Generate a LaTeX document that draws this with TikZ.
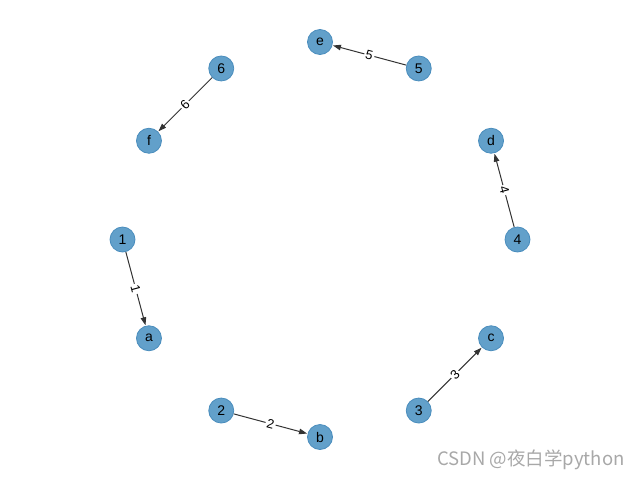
\documentclass[tikz,border=0pt]{standalone}
\usepackage{fontspec}
\setmainfont{Liberation Sans}
\newfontfamily\cjkwm{Noto Sans CJK SC}
\usetikzlibrary{arrows.meta,calc}
\definecolor{nodefill}{HTML}{62A0CA}
\definecolor{nodeedge}{HTML}{4A8DBD}
\definecolor{edgecol}{HTML}{333333}
\definecolor{wmcol}{HTML}{A8A8A8}
\begin{document}
\begin{tikzpicture}[x=1pt,y=-1pt,
  vtx/.style={circle,fill=nodefill,draw=nodeedge,line width=0.8pt,minimum size=25pt,inner sep=0pt,font=\fontsize{14}{14}\selectfont},
  conn/.style={draw=edgecol,line width=1pt,-{Triangle[length=8pt,width=5.5pt]},shorten >=0.5pt},
  elab/.style={fill=white,inner sep=1.5pt,sloped,font=\fontsize{13}{13}\selectfont}]
\useasboundingbox (0,0) rectangle (640,480);
\def\R{197.5}
\coordinate (O) at (320,239.5);
\node[vtx] (n4) at ($(O)+(0:\R)$) {4};
\node[vtx] (nd) at ($(O)+(-30:\R)$) {d};
\node[vtx] (n5) at ($(O)+(-60:\R)$) {5};
\node[vtx] (ne) at ($(O)+(-90:\R)$) {e};
\node[vtx] (n6) at ($(O)+(-120:\R)$) {6};
\node[vtx] (nf) at ($(O)+(-150:\R)$) {f};
\node[vtx] (n1) at ($(O)+(-180:\R)$) {1};
\node[vtx] (na) at ($(O)+(-210:\R)$) {a};
\node[vtx] (n2) at ($(O)+(-240:\R)$) {2};
\node[vtx] (nb) at ($(O)+(-270:\R)$) {b};
\node[vtx] (n3) at ($(O)+(-300:\R)$) {3};
\node[vtx] (nc) at ($(O)+(-330:\R)$) {c};
\draw[conn] (n1) -- node[elab] {1} (na);
\draw[conn] (n2) -- node[elab] {2} (nb);
\draw[conn] (n3) -- node[elab] {3} (nc);
\draw[conn] (n4) -- node[elab] {4} (nd);
\draw[conn] (n5) -- node[elab] {5} (ne);
\draw[conn] (n6) -- node[elab] {6} (nf);
\node[text=wmcol,font=\cjkwm\fontsize{18.5}{18.5}\selectfont,inner sep=0pt] (wm) at (531,460) {CSDN @夜白学python};
\end{tikzpicture}
\end{document}
